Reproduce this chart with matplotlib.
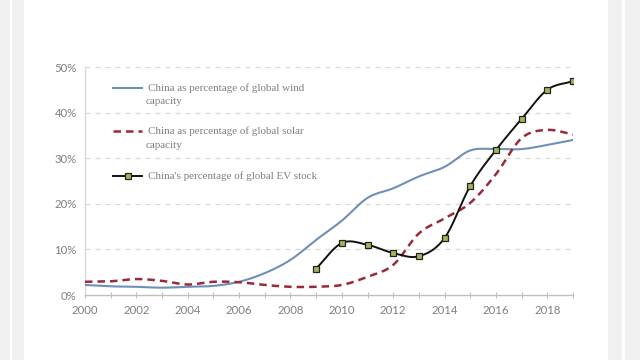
import matplotlib
matplotlib.use('Agg')
import matplotlib.pyplot as plt
import matplotlib.patches as patches
import numpy as np

years = list(range(2000, 2020))
wind = [2.2, 1.9, 1.8, 1.6, 1.8, 2.0, 2.9, 4.8, 7.7, 12.1, 16.3, 21.3, 23.4, 26.0, 28.1, 31.7, 32.0, 32.0, 32.9, 34.0]
solar = [2.9, 3.0, 3.5, 3.1, 2.3, 2.9, 2.8, 2.2, 1.8, 1.8, 2.2, 4.0, 6.6, 13.5, 16.8, 20.2, 26.5, 34.4, 36.2, 35.2]
ev_years = list(range(2009, 2020))
ev = [5.8, 11.4, 11.0, 9.2, 8.5, 12.5, 23.9, 31.8, 38.6, 45.0, 46.9]

labels = ["China as percentage of global wind", "capacity",
          "China as percentage of global solar", "capacity",
          "China's percentage of global EV stock"]

wind_color = '#6f90b6'
solar_color = '#9a2a3a'
ev_color = '#111111'
marker_face = '#a4b45a'
gray_text = '#7f7f7f'


def smooth(x, y, n=24):
    # Catmull-Rom style smoothing, like Excel's "smoothed line"
    x = np.asarray(x, float)
    y = np.asarray(y, float)
    px = np.concatenate([[2 * x[0] - x[1]], x, [2 * x[-1] - x[-2]]])
    py = np.concatenate([[2 * y[0] - y[1]], y, [2 * y[-1] - y[-2]]])
    xs, ys = [], []
    t = np.linspace(0, 1, n, endpoint=False)
    for i in range(1, len(px) - 2):
        x0, x1, x2, x3 = px[i - 1:i + 3]
        y0, y1, y2, y3 = py[i - 1:i + 3]
        cx1, cy1 = x1 + (x2 - x0) / 6, y1 + (y2 - y0) / 6
        cx2, cy2 = x2 - (x3 - x1) / 6, y2 - (y3 - y1) / 6
        bx = (1 - t) ** 3 * x1 + 3 * (1 - t) ** 2 * t * cx1 + 3 * (1 - t) * t ** 2 * cx2 + t ** 3 * x2
        by = (1 - t) ** 3 * y1 + 3 * (1 - t) ** 2 * t * cy1 + 3 * (1 - t) * t ** 2 * cy2 + t ** 3 * y2
        xs.extend(bx)
        ys.extend(by)
    xs.append(x[-1])
    ys.append(y[-1])
    return np.array(xs), np.array(ys)


fig = plt.figure(figsize=(6.4, 3.6), dpi=100)
fig.patch.set_facecolor('white')

# side strips of the page
for x0, w in [(0, 10), (12, 12), (608, 14), (625, 15)]:
    fig.patches.append(patches.Rectangle((x0 / 640, 0), w / 640, 1, transform=fig.transFigure,
                                         facecolor='#f0f0f0', edgecolor='none', zorder=0))

ax = fig.add_axes([85 / 640, 1 - 295 / 360, 488 / 640, 228 / 360])
ax.set_facecolor('none')

wx, wy = smooth(years, wind)
ax.plot(wx, np.array(wy) / 100, color=wind_color, lw=1.5, zorder=3)
sx, sy = smooth(years, solar)
ax.plot(sx, np.array(sy) / 100, color=solar_color, lw=1.8, dashes=(3, 2), zorder=3)
ex, ey = smooth(ev_years, ev)
ax.plot(ex, np.array(ey) / 100, color=ev_color, lw=1.4, zorder=4)
ax.plot(ev_years, np.array(ev) / 100, ls='none', marker='s', ms=5, mfc=marker_face,
        mec='#222222', mew=0.9, zorder=5)

ax.set_xlim(2000, 2019)
ax.set_ylim(0, 0.5)
ax.set_yticks([0, 0.1, 0.2, 0.3, 0.4, 0.5])
ax.set_yticklabels(['0%', '10%', '20%', '30%', '40%', '50%'])
ax.set_xticks(range(2000, 2019, 2))
ax.set_xticks(range(2000, 2020), minor=True)

for y in [0.1, 0.2, 0.3, 0.4, 0.5]:
    ax.axhline(y, color='#d9d9d9', lw=0.9, dashes=(4, 4), zorder=1)

for s in ['top', 'right']:
    ax.spines[s].set_visible(False)
ax.spines['left'].set_color('#d9d9d9')
ax.spines['left'].set_linewidth(1.0)
ax.spines['bottom'].set_color('#bfbfbf')
ax.spines['bottom'].set_linewidth(1.0)

ax.tick_params(axis='y', length=0, pad=6, labelsize=8.2, labelcolor=gray_text)
ax.tick_params(axis='x', which='both', direction='inout', length=4, width=0.8,
               color='#bfbfbf', pad=5, labelsize=8.2, labelcolor=gray_text)
for lab in ax.get_xticklabels() + ax.get_yticklabels():
    lab.set_family('Lato')

# legend drawn by hand to keep the handles on the first text line
def ay(py):
    return (295 - py) / 228

def axx(px):
    return (px - 85) / 488

hx = [axx(113), axx(142)]
ax.plot(hx, [ay(88)] * 2, color=wind_color, lw=1.5, transform=ax.transAxes, clip_on=False)
ax.plot(hx, [ay(131)] * 2, color=solar_color, lw=1.8, dashes=(3, 2), transform=ax.transAxes, clip_on=False)
ax.plot(hx, [ay(176)] * 2, color=ev_color, lw=1.4, transform=ax.transAxes, clip_on=False)
ax.plot([axx(127.5)], [ay(176)], marker='s', ms=5, mfc=marker_face, mec='#222222', mew=0.9,
        transform=ax.transAxes, clip_on=False)

for lab, py, px in [(labels[0], 88, 148), (labels[1], 102, 146), (labels[2], 131, 148),
                    (labels[3], 146, 146), (labels[4], 176, 148)]:
    ax.text(axx(px), ay(py), lab, transform=ax.transAxes, va='center', ha='left',
            fontsize=7.9, color=gray_text, family='Liberation Serif')

fig.savefig('out.png', dpi=100, facecolor='white')
